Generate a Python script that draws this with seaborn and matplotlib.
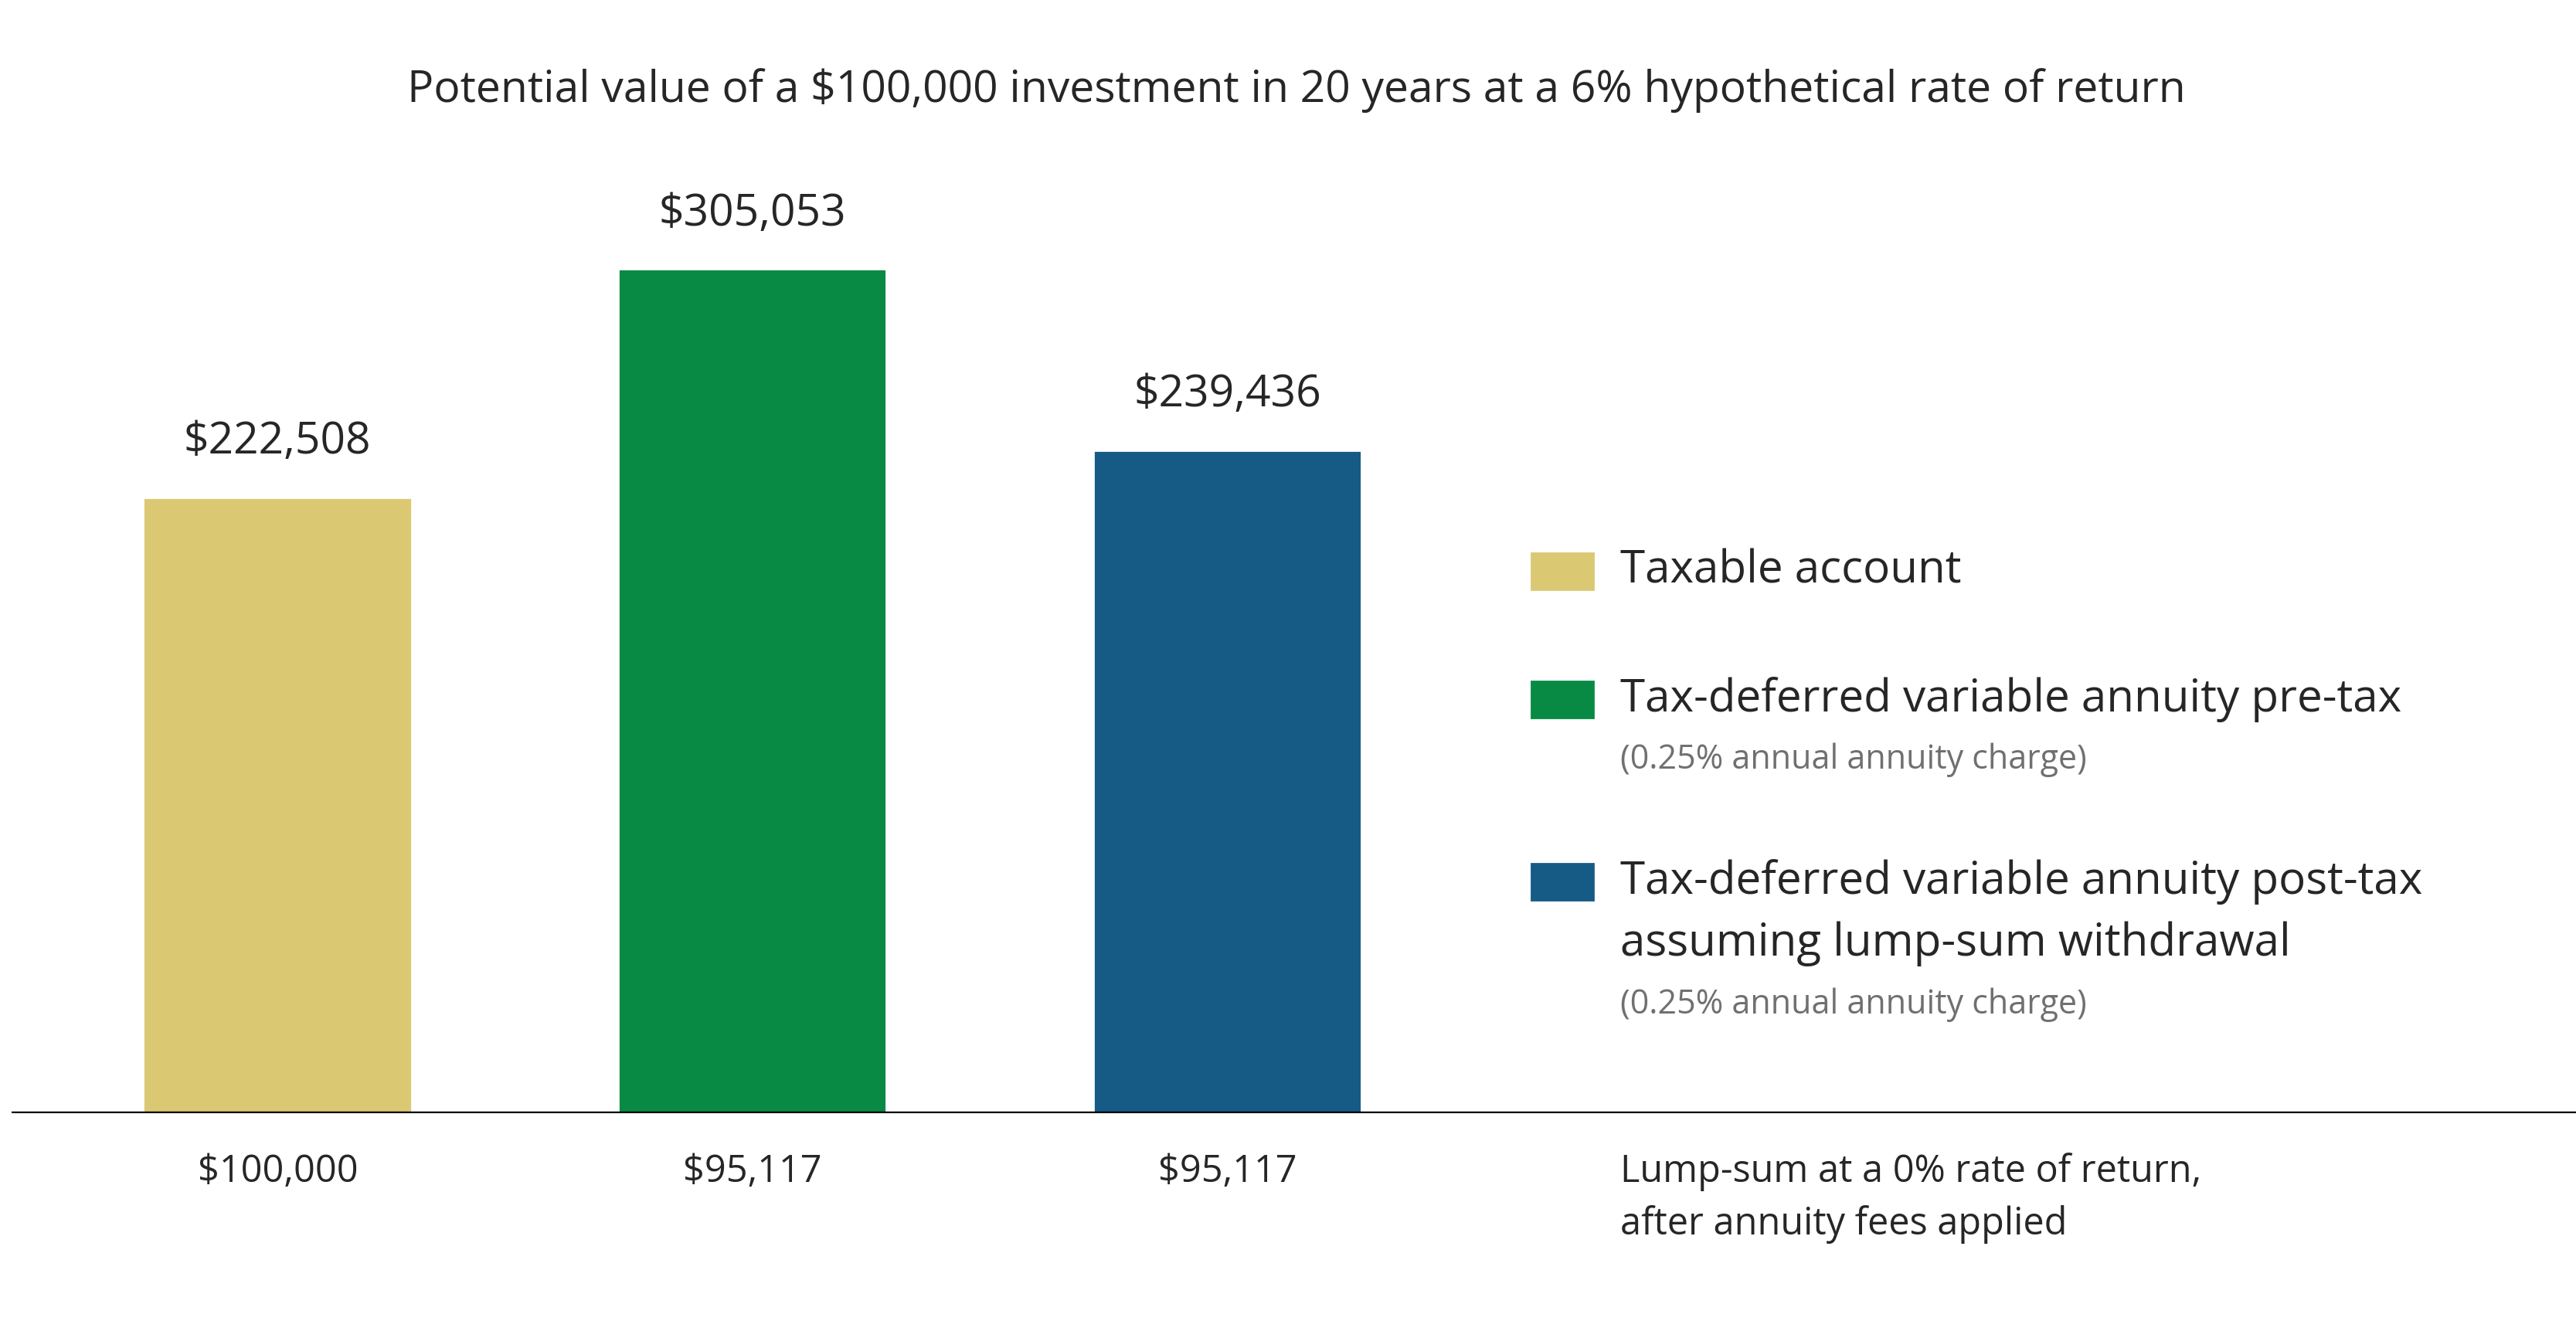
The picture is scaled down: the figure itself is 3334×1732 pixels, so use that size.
import matplotlib
matplotlib.use("Agg")
import matplotlib.pyplot as plt
import seaborn as sns
import pandas as pd
from matplotlib.patches import Rectangle

categories = ["Taxable account", "Tax-deferred variable annuity pre-tax",
              "Tax-deferred variable annuity post-tax"]
values = [222508, 305053, 239436]
value_labels = ["$222,508", "$305,053", "$239,436"]
base_labels = ["$100,000", "$95,117", "$95,117"]
colors = ["#DBC873", "#088A45", "#165B85"]

sns.set_style("white")
plt.rcParams["font.family"] = ["Open Sans", "DejaVu Sans"]

W, H = 1568, 815  # layout in reference display pixels
fig = plt.figure(figsize=(3334 / 200, 1732 / 200), dpi=200)
ax = fig.add_axes([7 / W, (H - 678) / H, 1 - 7 / W, (678 - 100) / H])

df = pd.DataFrame({"cat": categories, "val": values})
sns.barplot(data=df, x="cat", y="val", hue="cat", palette=colors,
            width=0.565, legend=False, ax=ax, saturation=1)
ax.set_xlim(-0.56, 4.84)
ax.set_ylim(0, (678 - 100) / 1.685 * 1000)
ax.axis("off")
ax.axhline(0, color="black", lw=1.6)

for i, v in enumerate(values):
    ax.text(i, v + 12000, value_labels[i], ha="center", va="bottom", fontsize=20.5)
    fig.text((169 + 289 * i) / W, 1 - 714 / H, base_labels[i], ha="center", va="center", fontsize=17.5)

fig.text(789 / W, 1 - 55 / H,
         "Potential value of a $100,000 investment in 20 years at a 6% hypothetical rate of return",
         ha="center", va="center", fontsize=20.5)

# legend
legend_rows = [
    (348, ["Taxable account"], None),
    (426, ["Tax-deferred variable annuity pre-tax"], "(0.25% annual annuity charge)"),
    (537, ["Tax-deferred variable annuity post-tax", "assuming lump-sum withdrawal"],
     "(0.25% annual annuity charge)"),
]
for (y, lines, sub), c in zip(legend_rows, colors):
    fig.patches.append(Rectangle((932 / W, 1 - (y + 11) / H), 38 / W, 22 / H,
                                 transform=fig.transFigure, color=c))
    for k, line in enumerate(lines):
        fig.text(986 / W, 1 - (y + 38 * k) / H, line, ha="left", va="center", fontsize=21)
    if sub:
        fig.text(986 / W, 1 - (y + 38 * (len(lines) - 1) + 37) / H, sub, ha="left", va="center",
                 fontsize=15.5, color="#707070")

fig.text(986 / W, 1 - 714 / H, "Lump-sum at a 0% rate of return,", ha="left", va="center", fontsize=17.5)
fig.text(986 / W, 1 - 746 / H, "after annuity fees applied", ha="left", va="center", fontsize=17.5)

fig.savefig("out.png", dpi=200, facecolor="white")
